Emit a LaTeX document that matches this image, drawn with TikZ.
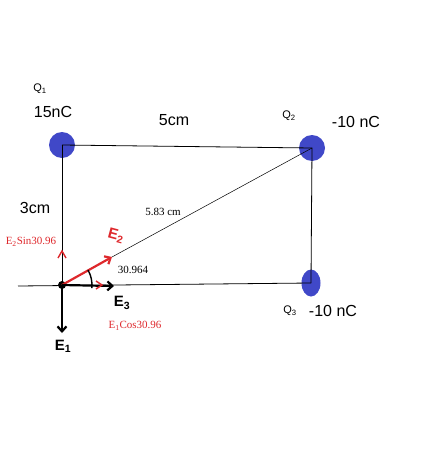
\documentclass[tikz,border=0pt]{standalone}
\usepackage{fontspec}
\setmainfont{Liberation Sans}
\newfontfamily\timesfont{Liberation Serif}
\usetikzlibrary{positioning,arrows.meta,shapes.geometric}

\definecolor{chargeblue}{RGB}{64,72,200}
\definecolor{fieldred}{RGB}{222,40,44}

\begin{document}
\begin{tikzpicture}[x=1pt,y=-1pt,
  charge/.style={circle, fill=chargeblue, inner sep=0pt, minimum size=26pt},
  big/.style={font=\fontsize{16}{18}\selectfont},
  qname/.style={font=\fontsize{11}{12}\selectfont},
  small/.style={font=\timesfont\fontsize{11}{12}\selectfont},
  hand/.style={font=\bfseries\fontsize{15}{16}\selectfont, inner sep=1pt},
  field/.style={line width=2.2pt, -{Straight Barb[length=5pt,width=9pt]}}]

\useasboundingbox (0,0) rectangle (436,450);

% the three charges and the point where the fields are wanted
\node[charge] (q1) at (62,145) {};
\node[charge] (q2) at (312,148) {};
\node[ellipse, fill=chargeblue, inner sep=0pt, minimum width=19pt, minimum height=27pt] (q3) at (311,283) {};
\node[circle, fill=black, inner sep=0pt, minimum size=8pt] (o) at (62,285) {};

\coordinate (left) at (18,286);
\coordinate (e2tip) at (112,257);
\coordinate (e3tip) at (114,286);
\coordinate (e1tip) at (62,333);

\draw[line width=0.8pt] (q1.center) -- (q2.center) -- (q3.center);
\draw[line width=0.8pt] (q1.center) -- (o.center);
\draw[line width=0.8pt] (left) -- (q3.center);
\draw[line width=0.5pt] (e2tip) -- (q2.center);

% field vectors
\draw[field, fieldred] (o.center) -- (e2tip);
\draw[field, black] (o.center) -- (e3tip);
\draw[field, black] (o.center) -- (e1tip);

% components and angle
\draw[fieldred, line width=1.4pt] (58,258) -- (62,251) -- (66,258);
\draw[fieldred, line width=1.4pt] (96,281) -- (102,285) -- (96,289);
\draw[line width=1.4pt] (o.center) ++(-30:30) arc[start angle=-30, end angle=6, radius=30];

% labels
\node[qname] (l1) at (40,89) {Q\textsubscript{1}};
\node[big] (c1) at (53,112) {15nC};
\node[big] (side1) at (174,120) {5cm};
\node[qname] (l2) at (289,116) {Q\textsubscript{2}};
\node[big] (c2) at (356,122) {-10 nC};
\node[big] (side2) at (35,208) {3cm};
\node[small] (diag) at (163,212) {5.83 cm};
\node[small, text=fieldred] (ey) at (31,242) {E\textsubscript{2}Sin30.96};
\node[hand, text=fieldred, rotate=-15] (e2) at (116,236) {E\textsubscript{2}};
\node[small] (ang) at (133,270) {30.964};
\node[hand] (e3) at (122,303) {E\textsubscript{3}};
\node[small, text=fieldred] (ex) at (135,326) {E\textsubscript{1}Cos30.96};
\node[hand] (e1) at (63,346) {E\textsubscript{1}};
\node[qname] (l3) at (290,311) {Q\textsubscript{3}};
\node[big] (c3) at (333,311) {-10 nC};

\end{tikzpicture}
\end{document}
